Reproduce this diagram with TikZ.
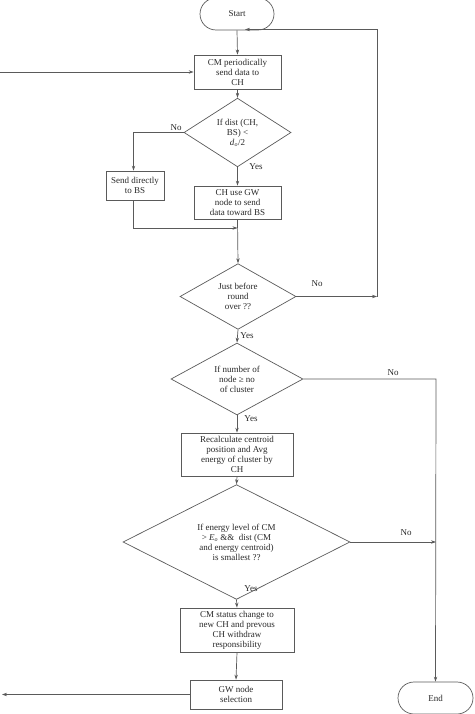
\documentclass[tikz,border=0pt]{standalone}
\usepackage{fontspec}
\setmainfont{Liberation Serif}
\usetikzlibrary{shapes.geometric,shapes.misc,arrows.meta}
\definecolor{ln}{RGB}{90,90,90}
\definecolor{tx}{RGB}{40,40,40}
\tikzset{
  every node/.style={font=\fontsize{9}{10}\selectfont, text=tx},
  proc/.style={draw=ln, line width=0.7pt, rectangle, align=center, inner sep=0pt},
  decis/.style={draw=ln, line width=0.7pt, diamond, align=center, inner sep=0pt},
  term/.style={draw=ln, line width=0.7pt, rounded rectangle, align=center, inner sep=0pt},
  conn/.style={draw=ln, line width=0.7pt},
  arr/.style={conn, -{Stealth[length=5pt,width=3.4pt]}},
  lbl/.style={inner sep=0pt}
}
\begin{document}
\begin{tikzpicture}[x=1pt,y=-1pt]
\useasboundingbox (0,0) rectangle (474,714);
% nodes
\node[term, minimum width=74pt, minimum height=32pt] (start) at (237,14) {Start};
\node[proc, minimum width=87pt, minimum height=34pt] (b1) at (237.5,72) {CM periodically\\send data to\\CH};
\node[decis, minimum width=107pt, minimum height=63pt] (d1) at (237.5,132.5) {If dist (CH,\\BS) {\textless}\\\textit{d}\textsubscript{\textit{o}}/2};
\node[proc, minimum width=58pt, minimum height=29pt] (sd) at (135,185.5) {Send directly\\to BS};
\node[proc, minimum width=87pt, minimum height=33pt] (b3) at (237.5,202.5) {CH use GW\\node to send\\data toward BS};
\node[decis, minimum width=116pt, minimum height=63pt] (d2) at (238,296.5) {Just before\\round\\over ??};
\node[decis, minimum width=132pt, minimum height=64pt] (d3) at (237,379) {If number of\\node ≥ no\\of cluster};
\node[proc, minimum width=112pt, minimum height=43pt] (b4) at (237,454.5) {Recalculate centroid\\position and Avg\\energy of cluster by\\CH};
\node[decis, minimum width=227pt, minimum height=90pt] (d4) at (236.5,542) {If energy level of CM\\{\textgreater} \textit{E}\textsubscript{\textit{o}} \&\&\ \ dist (CM\\and energy centroid)\\is smallest ??};
\node[proc, minimum width=114pt, minimum height=44pt] (b5) at (237,630) {CM status change to\\new CH and prevous\\CH withdraw\\responsibility};
\node[proc, minimum width=92pt, minimum height=29pt] (b6) at (236,694.5) {GW node\\selection};
\node[term, minimum width=75pt, minimum height=32pt] (end) at (435.5,698) {End};
% coordinates
\coordinate (lin) at (0,72);
\coordinate (lout) at (2,694.5);
\coordinate (rloopb) at (377,296.5);
\coordinate (rloopt) at (377,29.5);
\coordinate (stin) at (245,29.5);
\coordinate (nol) at (133.5,132.5);
\coordinate (j1) at (237.5,228);
\coordinate (rc3) at (436,379);
\coordinate (rc4) at (436,542);
% connectors
\draw[arr] (start.south) -- (b1.north);
\draw[arr] (lin) -- (b1.west);
\draw[arr] (b1.south) -- (d1.north);
\draw[arr] (d1.west) -- (nol) -- (nol |- sd.north);
\draw[arr] (d1.south) -- (b3.north);
\draw[arr] (nol |- sd.south) |- (j1);
\draw[arr] (b3.south) -- (d2.north);
\draw[arr] (d2.east) -- (rloopb);
\draw[arr] (rloopb) -- (rloopt) -- (stin);
\draw[arr] (d2.south) -- (d3.north);
\draw[arr] (d3.east) -- (rc3) -- (end.north);
\draw[arr] (d3.south) -- (b4.north);
\draw[arr] (b4.south) -- (d4.north);
\draw[arr] (d4.east) -- (rc4);
\draw[arr] (d4.south) -- (b5.north);
\draw[arr] (b5.south) -- (b6.north);
\draw[arr] (b6.west) -- (lout);
% labels
\node[lbl] (l1) at (176,128) {No};
\node[lbl] (l2) at (256,167) {Yes};
\node[lbl] (l3) at (317,284) {No};
\node[lbl] (l4) at (247,336) {Yes};
\node[lbl] (l5) at (393,373) {No};
\node[lbl] (l6) at (251,419) {Yes};
\node[lbl] (l7) at (406,533) {No};
\node[lbl] (l8) at (251,589) {Yes};
\end{tikzpicture}
\end{document}
